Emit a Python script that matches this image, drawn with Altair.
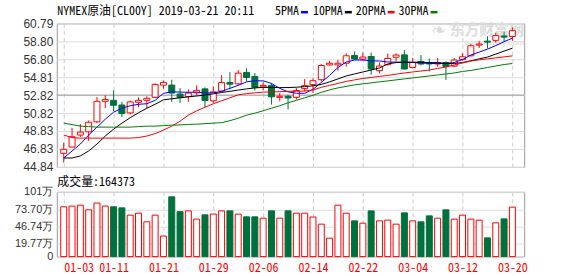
import json
import altair as alt
import pandas as pd

dates = ["01-03","01-04","01-07","01-08","01-09","01-10","01-11","01-14","01-15","01-16",
         "01-17","01-18","01-21","01-22","01-23","01-24","01-25","01-28","01-29","01-30",
         "01-31","02-01","02-04","02-05","02-06","02-07","02-08","02-11","02-12","02-13",
         "02-14","02-15","02-18","02-19","02-20","02-21","02-22","02-25","02-26","02-27",
         "02-28","03-01","03-04","03-05","03-06","03-07","03-08","03-11","03-12","03-13",
         "03-14","03-15","03-18","03-19","03-20"]

opens = [46.35,47.05,48.38,48.74,49.85,52.13,52.24,51.72,50.84,52.02,
         52.24,52.57,53.93,53.93,52.94,52.65,53.07,53.51,52.19,53.27,
         54.23,54.07,55.34,54.90,53.74,53.90,52.57,52.69,52.57,53.54,
         53.98,54.53,56.18,56.18,56.36,57.22,56.83,57.11,55.54,56.20,
         57.03,57.29,55.89,56.55,56.36,56.28,56.44,56.04,56.79,57.19,
         58.38,58.82,58.91,59.39,59.34]
closes = [46.80,48.19,48.71,49.81,52.13,52.33,51.69,50.77,52.06,52.24,
          52.46,54.01,54.23,53.05,52.57,53.05,53.35,52.22,53.18,54.21,
          54.04,55.26,54.78,53.68,53.90,52.63,52.69,52.50,53.32,53.87,
          54.42,56.11,56.36,56.36,57.19,56.83,57.05,55.72,56.05,56.90,
          57.27,55.72,56.44,56.28,56.28,56.44,56.00,56.72,57.08,58.30,
          58.49,58.71,59.43,59.26,59.98]
highs = [47.52,49.18,49.60,50.00,52.61,52.80,53.35,52.06,52.21,52.57,
         52.69,54.12,54.45,54.53,53.60,53.46,53.90,53.68,53.79,55.04,
         55.37,55.61,55.81,55.26,54.23,54.16,53.05,52.87,53.60,54.60,
         54.71,56.25,56.63,56.74,57.47,57.66,57.55,57.55,56.44,57.44,
         57.47,57.84,56.94,57.27,56.88,56.94,56.58,56.94,57.49,58.51,
         58.82,59.37,59.76,59.87,60.34]
lows = [45.32,46.97,48.16,47.71,49.73,51.39,51.03,50.40,50.66,51.47,
        51.36,52.50,53.54,52.06,51.95,52.06,52.80,51.47,51.97,53.20,
        53.46,53.98,54.34,53.32,53.35,51.77,52.13,51.22,52.32,53.24,
        53.05,54.34,56.11,55.55,55.98,56.74,56.66,55.08,55.23,56.11,
        56.55,55.67,55.81,56.11,55.45,55.98,54.51,55.95,56.66,57.13,
        58.05,58.00,58.65,58.82,58.87]
volumes = [77.6,78.7,80.2,72.9,83.5,78.8,77.6,76.0,64.6,67.7,
           54.2,64.6,32.0,93.2,70.1,71.3,58.4,65.1,66.3,71.3,
           71.3,66.2,62.0,62.0,59.9,71.3,59.9,71.3,67.7,67.7,
           61.7,50.6,28.7,80.2,67.7,55.7,52.1,71.3,55.7,56.8,
           50.6,68.2,55.7,54.2,63.5,59.9,72.9,58.4,64.6,58.4,
           56.8,29.2,52.6,58.8,77.1]
ma5 = [45.83,46.61,47.38,48.38,49.26,50.14,50.92,51.36,51.64,51.80,
       51.86,52.24,53.02,53.18,53.16,53.13,53.16,53.07,53.07,53.24,
       53.57,53.90,54.29,54.42,54.40,54.12,53.57,53.18,53.02,53.02,
       53.46,54.23,55.01,55.89,56.50,56.72,56.72,56.63,56.61,56.50,
       56.48,56.48,56.44,56.41,56.33,56.33,56.33,56.44,56.77,57.27,
       57.60,57.93,58.32,58.76,59.15]
ma10 = [45.83,45.83,46.06,46.61,47.38,48.27,49.04,49.70,50.31,50.86,
        51.36,51.80,52.30,52.41,52.52,52.63,52.72,52.83,52.96,53.11,
        53.24,53.38,53.51,53.62,53.68,53.68,53.65,53.66,53.70,53.76,
        53.85,54.01,54.29,54.62,54.95,55.17,55.39,55.61,55.83,56.28,
        56.44,56.48,56.48,56.48,56.44,56.42,56.35,56.33,56.44,56.63,
        56.85,57.05,57.38,57.71,58.04]
ma20 = [48.38,48.10,48.04,48.04,48.04,48.04,48.04,48.04,48.04,48.10,
        48.27,48.54,48.93,49.37,49.92,50.59,51.08,51.47,51.86,52.19,
        52.52,52.85,52.98,53.07,53.15,53.18,53.20,53.24,53.24,53.27,
        53.40,53.68,53.90,54.12,54.34,54.51,54.67,54.78,54.90,55.01,
        55.15,55.28,55.39,55.50,55.61,55.78,55.94,56.17,56.39,56.61,
        56.74,56.85,56.96,57.07,57.18]
ma30 = [49.70,49.54,49.37,49.32,49.26,49.26,49.26,49.26,49.26,49.32,
        49.37,49.37,49.43,49.48,49.51,49.56,49.59,49.65,49.70,49.76,
        49.98,50.25,50.59,50.81,51.08,51.36,51.64,51.97,52.24,52.52,
        52.80,53.13,53.40,53.62,53.79,53.96,54.07,54.18,54.29,54.40,
        54.51,54.62,54.73,54.84,54.95,55.06,55.17,55.28,55.45,55.56,
        55.72,55.89,56.06,56.22,56.33]

price_ticks = [44.84, 46.83, 48.83, 50.82, 52.82, 54.81, 56.80, 58.80, 60.79]
vol_ticks = [0, 19.77, 46.74, 73.70, 101]
date_ticks = ["01-03","01-11","01-21","01-29","02-06","02-14","02-22","03-04","03-12","03-20"]
ma_names = ["5PMA", "10PMA", "20PMA", "30PMA"]
ma_colors = ["#0000ff", "#000000", "#ff0000", "#008000"]
title_text = "NYMEX原油[CL00Y] 2019-03-21 20:11"
vol_text = "成交量:164373"

RED = "#ff0000"
GREEN = "#00703c"
MONO = "Noto Sans Mono CJK SC, DejaVu Sans Mono, monospace"
SANS = "Liberation Sans, Arial, sans-serif"

n = len(dates)
df = pd.DataFrame({
    "i": list(range(n)), "date": dates, "open": opens, "close": closes,
    "high": highs, "low": lows, "vol": volumes,
})
df["dir"] = ["up" if c >= o else "down" for o, c in zip(opens, closes)]
tick_idx = [dates.index(d) for d in date_ticks]

W, H, VH = 469, 144, 65
xs = alt.Scale(domain=[-0.235, 54.82], nice=False, zero=False)
ys = alt.Scale(domain=[price_ticks[0], price_ticks[-1]], nice=False, zero=False)
vs = alt.Scale(domain=[vol_ticks[0], vol_ticks[-1]], nice=False, zero=True)
stroke_scale = alt.Scale(domain=["up", "down"], range=[RED, GREEN])
fill_scale = alt.Scale(domain=["up", "down"], range=["#ffffff", GREEN])

x_axis_price = alt.Axis(values=tick_idx, labels=False, ticks=False, domain=False,
                        grid=True, gridDash=[4, 3], gridColor="#cccccc", title=None)
y_axis_price = alt.Axis(values=price_ticks, format=".2f", labelFontSize=12, labelColor="#333333",
                        labelFont=SANS, ticks=False, domain=False, grid=True, gridColor="#dddddd",
                        labelPadding=4, labelOverlap=False, title=None)

def X():
    return alt.X("i:Q", scale=xs, axis=x_axis_price)

def Yp(field):
    return alt.Y(field, type="quantitative", scale=ys, axis=y_axis_price)

one = pd.DataFrame({"k": [0]})

bound = alt.Chart(one).mark_rect(opacity=0).encode(
    x=alt.value(-56), x2=alt.value(522), y=alt.value(-22), y2=alt.value(254))

wm1 = alt.Chart(one).mark_text(text="东方财富网", font="Noto Sans CJK SC", fontWeight="bold",
                               fontSize=15, color="#dcdcdc", align="right", baseline="alphabetic").encode(
    x=alt.value(W), y=alt.value(12))
wm2 = alt.Chart(one).mark_text(text="eastmoney.com", font=SANS, fontWeight="bold",
                               fontSize=8, color="#e2e2e2", align="right", baseline="alphabetic").encode(
    x=alt.value(W), y=alt.value(22))
wm3 = alt.Chart(one).mark_text(text="❧", font="DejaVu Sans", fontSize=18, color="#dcdcdc",
                               align="center", baseline="middle").encode(
    x=alt.value(383), y=alt.value(8))

ref = alt.Chart(pd.DataFrame({"v": [price_ticks[4]]})).mark_rule(color="#999999", strokeWidth=1).encode(
    x=alt.value(0), x2=alt.value(W), y=Yp("v"))

wick = alt.Chart(df).mark_rule(strokeWidth=1).encode(
    x=X(), y=Yp("low"), y2="high",
    stroke=alt.Stroke("dir:N", scale=stroke_scale, legend=None))

body = alt.Chart(df).mark_bar(size=6, strokeWidth=1).encode(
    x=X(), y=Yp("open"), y2="close",
    stroke=alt.Stroke("dir:N", scale=stroke_scale, legend=None),
    fill=alt.Fill("dir:N", scale=fill_scale, legend=None))

ma_layers = []
for name, arr, col in zip(ma_names, [ma5, ma10, ma20, ma30], ma_colors):
    mdf = pd.DataFrame({"i": list(range(n)), "ma": arr})
    ma_layers.append(alt.Chart(mdf).mark_line(color=col, strokeWidth=1).encode(x=X(), y=Yp("ma")))

texts = [alt.Chart(one).mark_text(text=title_text, font=MONO, fontSize=12, color="#000000",
                                  align="left", baseline="alphabetic").encode(
    x=alt.value(0.5), y=alt.value(-8.5))]
leg_text_x = [219, 257, 300, 343]
leg_dash_x = [245, 289, 332, 375]
for name, col, tx, dx in zip(ma_names, ma_colors, leg_text_x, leg_dash_x):
    texts.append(alt.Chart(one).mark_text(text=name, font=MONO, fontSize=12, color="#000000",
                                          align="left", baseline="alphabetic").encode(
        x=alt.value(tx), y=alt.value(-8.5)))
    texts.append(alt.Chart(one).mark_rect(color=col).encode(
        x=alt.value(dx), x2=alt.value(dx + 7), y=alt.value(-12.5), y2=alt.value(-10)))

price = alt.layer(bound, wm3, wm1, wm2, ref, wick, body, *ma_layers, *texts).properties(width=W, height=H)

labels_expr = f"{json.dumps(dates)}[datum.value]"
x_axis_vol = alt.Axis(values=tick_idx, labelExpr=labels_expr, labelColor=RED, labelFont=MONO,
                      labelFontSize=12, labelPadding=6, labelFlush=False, labelOverlap=False,
                      labelAlign=alt.condition("datum.value == 0", alt.value("left"), alt.value("center")),
                      ticks=False, domain=False, grid=True, gridDash=[4, 3], gridColor="#cccccc",
                      title=None)
vol_expr = ("datum.value == 0 ? '0' : (datum.value >= 100 ? format(datum.value, 'd') + '万' : "
            "format(datum.value, '.2f') + '万')")
y_axis_vol = alt.Axis(values=vol_ticks, labelExpr=vol_expr, labelFontSize=11, labelColor="#333333",
                      labelFont=SANS, ticks=False, domain=False, grid=True, gridColor="#dddddd",
                      labelPadding=4, labelOverlap=False, title=None)

vbars = alt.Chart(df).mark_bar(size=6, strokeWidth=1).encode(
    x=alt.X("i:Q", scale=xs, axis=x_axis_vol),
    y=alt.Y("vol:Q", scale=vs, axis=y_axis_vol),
    stroke=alt.Stroke("dir:N", scale=stroke_scale, legend=None),
    fill=alt.Fill("dir:N", scale=fill_scale, legend=None))
vtext = alt.Chart(one).mark_text(text=vol_text, font=MONO, fontSize=12, color="#000000",
                                 align="left", baseline="alphabetic").encode(
    x=alt.value(0.5), y=alt.value(-6))
volume = alt.layer(vbars, vtext).properties(width=W, height=VH)

chart = alt.vconcat(price, volume, spacing=25, bounds="flush").properties(
    padding=0, background="#ffffff"
).configure_view(stroke="#999999", strokeWidth=1)

chart.save("out.html", embed_options={"renderer": "svg", "actions": False})
